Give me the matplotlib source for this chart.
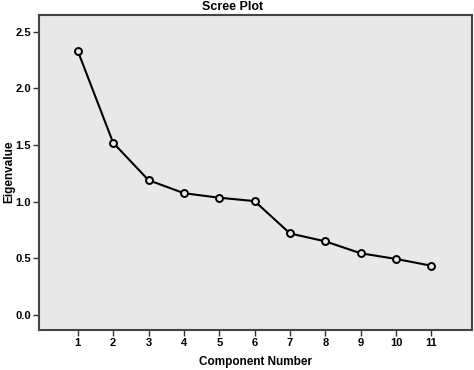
import matplotlib
matplotlib.use('Agg')
import matplotlib.pyplot as plt

components = [1, 2, 3, 4, 5, 6, 7, 8, 9, 10, 11]
eigenvalues = [2.33, 1.52, 1.19, 1.075, 1.035, 1.005, 0.72, 0.65, 0.545, 0.495, 0.435]
yticks = [0.0, 0.5, 1.0, 1.5, 2.0, 2.5]

plt.rcParams['font.family'] = ['Liberation Sans', 'DejaVu Sans']
plt.rcParams['font.weight'] = 'bold'

fig = plt.figure(figsize=(4.74, 3.70), dpi=100)
ax = fig.add_axes([0.082, 0.108, 0.914, 0.851])
ax.set_facecolor('#e8e8e8')

ax.plot(components, eigenvalues, 'k-', lw=1.5, marker='o', markersize=5,
        markerfacecolor='#e8e8e8', markeredgecolor='black', markeredgewidth=1.4)

ax.set_xlim(-0.1, 12.15)
ax.set_ylim(-0.132, 2.645)
ax.set_xticks(components)
ax.set_yticks(yticks)
ax.set_yticklabels(['%.1f' % v for v in yticks])
ax.tick_params(axis='both', labelsize=8, length=4, width=1, color='#333333', pad=1.5)

for s in ax.spines.values():
    s.set_color('#444444')
    s.set_linewidth(1.5)

# title sits centred on the figure, not the axes
fig.text(233 / 474, 1 - 7 / 370, 'Scree Plot', ha='center', va='center',
         fontsize=9, fontweight='bold')
ax.set_xlabel('Component Number', fontsize=8.5, fontweight='bold', labelpad=6)
fig.text(9 / 474, 1 - 172 / 370, 'Eigenvalue', rotation=90, ha='center', va='center',
         fontsize=8.5, fontweight='bold')

fig.savefig('out.png', dpi=100, facecolor='white')
